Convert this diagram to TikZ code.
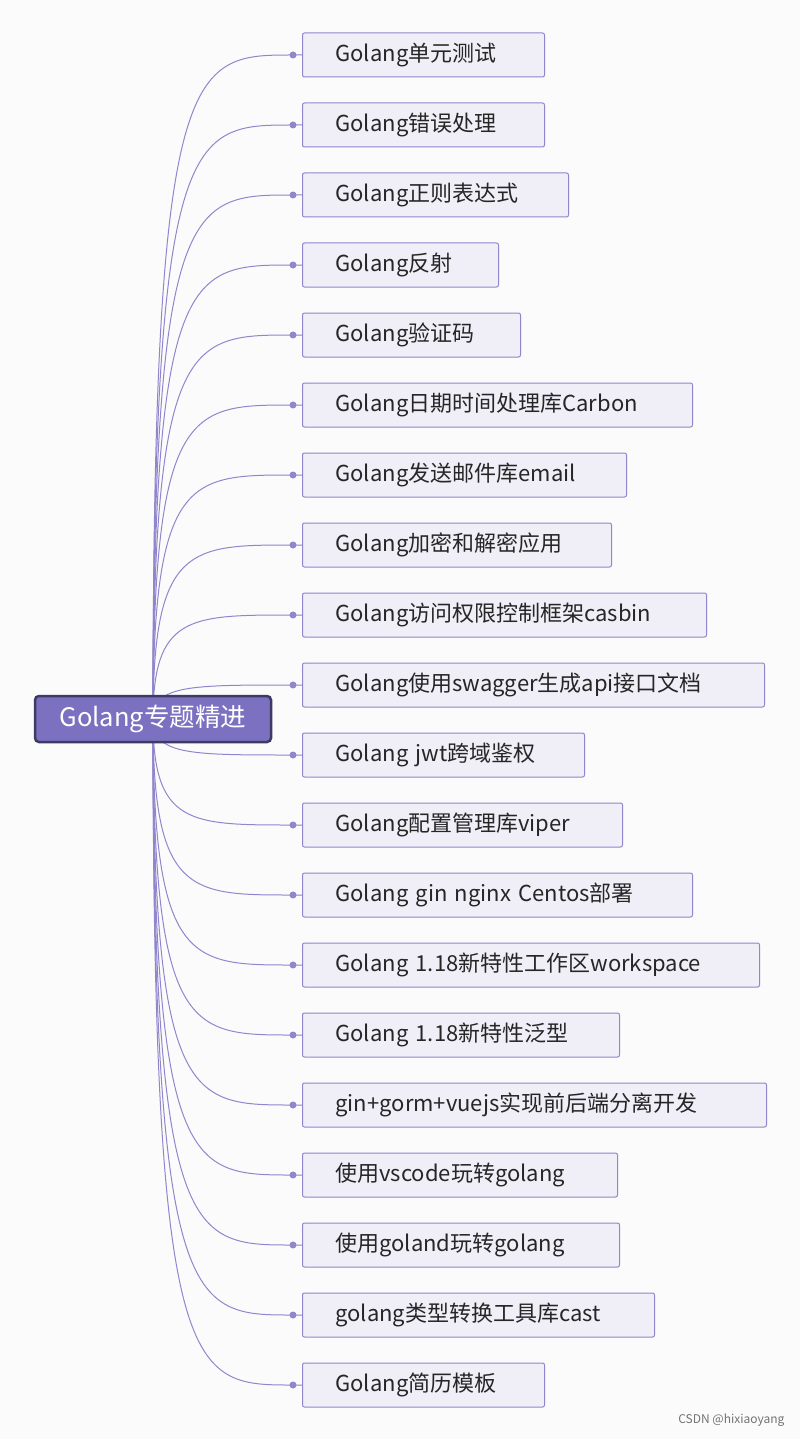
\documentclass[tikz,border=0pt]{standalone}
\usepackage{fontspec}
\setmainfont{Noto Sans CJK SC}
\definecolor{bg}{HTML}{FBFBFC}
\definecolor{edge}{HTML}{8F86CC}
\definecolor{leaffill}{HTML}{F0EFF8}
\definecolor{rootfill}{HTML}{7B71C0}
\definecolor{rootline}{HTML}{3E3A63}
\tikzset{
 leaf/.style={draw=edge,fill=leaffill,line width=1pt,rounded corners=2pt,anchor=west,minimum height=44pt,text=black!85,font=\fontsize{22}{25}\selectfont,align=left},
 conn/.style={draw=edge,line width=1pt},
 dotmark/.style={circle,fill=edge,inner sep=0pt,minimum size=7pt},
 rootbox/.style={draw=rootline,fill=rootfill,line width=2.5pt,rounded corners=4pt,minimum width=236pt,minimum height=46pt,text=white,font=\fontsize{25.5}{28}\selectfont},
}
\begin{document}
\begin{tikzpicture}[x=1pt,y=-1pt]
\useasboundingbox[fill=bg] (0,0) rectangle (800,1439);
\coordinate (hub) at (153,719);
\foreach \t/\r [count=\i from 0] in {
 Golang单元测试/544,Golang错误处理/544,Golang正则表达式/568,Golang反射/498,Golang验证码/520,
 Golang日期时间处理库Carbon/692,Golang发送邮件库email/626,Golang加密和解密应用/611,
 Golang访问权限控制框架casbin/706,Golang使用swagger生成api接口文档/764,Golang jwt跨域鉴权/584,
 Golang配置管理库viper/622,Golang gin nginx Centos部署/692,Golang 1.18新特性工作区workspace/759,
 Golang 1.18新特性泛型/619,gin+gorm+vuejs实现前后端分离开发/766,使用vscode玩转golang/617,
 使用goland玩转golang/619,golang类型转换工具库cast/654,Golang简历模板/544}{
 \pgfmathsetmacro\yy{55+70*\i}
 \pgfmathsetmacro\ww{\r-302}
 \node[leaf,minimum width=\ww pt,text width=\ww pt,inner xsep=0pt] (n\i) at (302,\yy) {\hspace*{33pt}\t};
 \node[dotmark] (d\i) at (293,\yy) {};
 \draw[conn] (hub) .. controls (153,\yy) and (190,\yy) .. (d\i.center) -- (n\i.west);
}
\node[rootbox] (root) at (hub) {Golang专题精进};
\node[anchor=south east,text=black!55,font=\fontsize{12}{14}\selectfont] (wm) at (788,1430) {CSDN @hixiaoyang};
\end{tikzpicture}
\end{document}
